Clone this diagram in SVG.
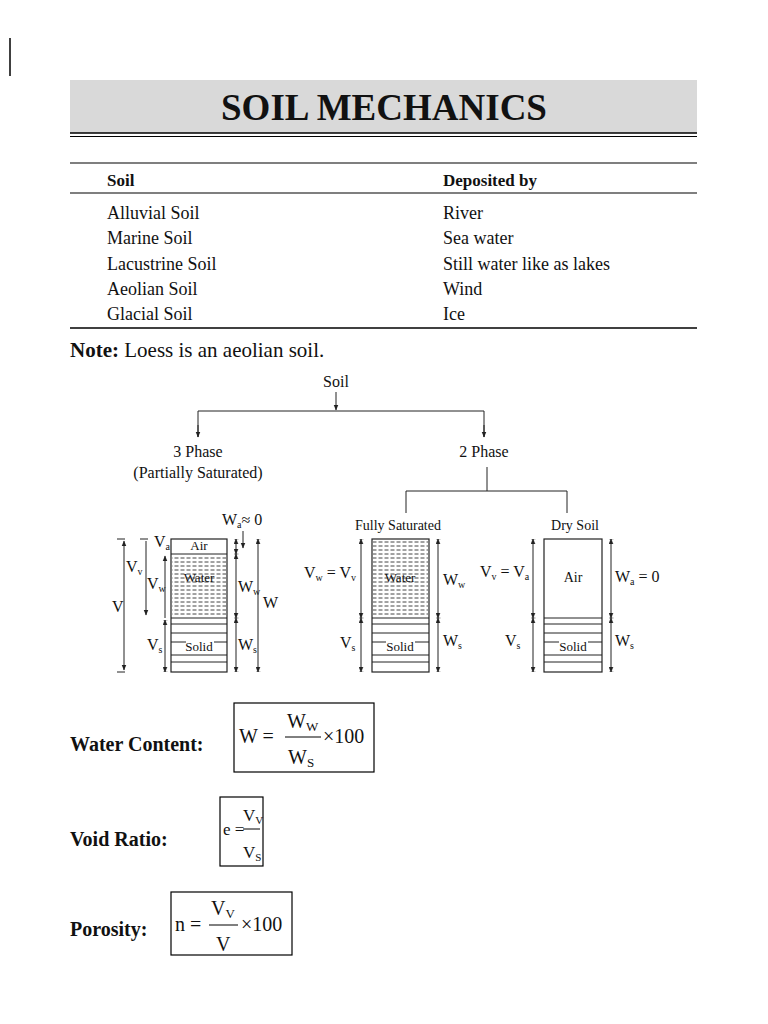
<svg xmlns="http://www.w3.org/2000/svg" width="768" height="1024" viewBox="0 0 768 1024">
<style>
text{font-family:"Liberation Serif","Times New Roman",serif;fill:#111}
.t{font-size:18px}.s{font-size:16px}.b{font-weight:bold}.sub{font-size:10px}
.f{font-size:20px}.fs{font-size:13px}
.l{stroke:#222;stroke-width:1;fill:none}
.box{stroke:#222;stroke-width:1.2;fill:#fff}
</style>
<defs>
<marker id="a" viewBox="0 0 10 10" refX="9" refY="5" markerWidth="6" markerHeight="6" orient="auto-start-reverse"><path d="M0,1L10,5L0,9z" fill="#222"/></marker>
<marker id="t" viewBox="0 0 10 10" refX="10" refY="5" markerWidth="5" markerHeight="5" orient="auto-start-reverse"><path d="M0,1L10,5L0,9z M10,0V10" fill="#222" stroke="#222"/></marker>
<pattern id="w" width="6" height="4" patternUnits="userSpaceOnUse"><line x1="0.5" y1="2" x2="4.5" y2="2" stroke="#444" stroke-width="1"/></pattern>
</defs>
<line x1="10" y1="38" x2="10" y2="76" stroke="#000" stroke-width="1.5"/>
<g id="title"><rect x="70" y="80" width="627" height="53" fill="#d9d9d9"/>
<line x1="70" y1="133" x2="697" y2="133" stroke="#000" stroke-width="1.5"/><line x1="70" y1="136.5" x2="697" y2="136.5" stroke="#000"/>
<text x="384" y="120" text-anchor="middle" class="b" style="font-size:37px">SOIL MECHANICS</text></g>
<g id="table"><line x1="70" y1="163" x2="697" y2="163" stroke="#000" stroke-width="1.2"/><line x1="70" y1="193" x2="697" y2="193" stroke="#000" stroke-width="1.2"/><line x1="70" y1="328" x2="697" y2="328" stroke="#000" stroke-width="1.5"/>
<text x="107" y="186" class="t b" style="font-size:17px">Soil</text><text x="443" y="186" class="t b" style="font-size:17px">Deposited by</text>
<text x="107" y="219" class="t">Alluvial Soil</text><text x="443" y="219" class="t">River</text>
<text x="107" y="244" class="t">Marine Soil</text><text x="443" y="244" class="t">Sea water</text>
<text x="107" y="270" class="t">Lacustrine Soil</text><text x="443" y="270" class="t">Still water like as lakes</text>
<text x="107" y="295" class="t">Aeolian Soil</text><text x="443" y="295" class="t">Wind</text>
<text x="107" y="320" class="t">Glacial Soil</text><text x="443" y="320" class="t">Ice</text></g>
<text x="70" y="357" style="font-size:21px"><tspan class="b">Note:</tspan> Loess is an aeolian soil.</text>
<g id="tree">
<text x="336" y="387" text-anchor="middle" class="s">Soil</text>
<text x="198" y="457" text-anchor="middle" class="s">3 Phase</text><text x="198" y="478" text-anchor="middle" class="s">(Partially Saturated)</text>
<text x="484" y="457" text-anchor="middle" class="s">2 Phase</text>
<text x="398" y="530" text-anchor="middle" style="font-size:14px">Fully Saturated</text>
<text x="575" y="530" text-anchor="middle" style="font-size:14px">Dry Soil</text>
</g>
<g id="connectors" class="l">
<line x1="336" y1="392" x2="336" y2="410" marker-end="url(#a)"/>
<polyline points="198,437 198,411 484,411 484,437"/>
<line x1="198" y1="425" x2="198" y2="437" marker-end="url(#a)"/><line x1="484" y1="425" x2="484" y2="437" marker-end="url(#a)"/>
<line x1="487" y1="467" x2="487" y2="491"/><polyline points="406,513 406,491 567,491 567,513"/>
</g>
<g id="phase3">
<rect x="171" y="539" width="56" height="133" class="box"/>
<rect x="172" y="555" width="54" height="62" fill="url(#w)"/>
<path class="l" d="M171,554H227M171,618H227M171,624H227M171,633H227M171,642H227M171,655H227M171,662H227"/>
<rect x="186" y="640" width="28" height="12" fill="#fff"/>
<text x="199" y="550" text-anchor="middle" style="font-size:13px">Air</text>
<text x="199" y="582" text-anchor="middle" style="font-size:13px">Water</text>
<text x="199" y="651" text-anchor="middle" style="font-size:13px">Solid</text>
<g class="l"><line x1="124" y1="541" x2="124" y2="670" marker-start="url(#a)" marker-end="url(#a)"/><path d="M117,539h8M117,672h8"/>
<line x1="146" y1="541" x2="146" y2="615" marker-end="url(#a)"/><path d="M140,539h8"/>
<line x1="165" y1="556" x2="165" y2="618" marker-start="url(#a)"/><line x1="165" y1="620" x2="165" y2="672" marker-start="url(#t)" marker-end="url(#t)"/>
<line x1="236" y1="539" x2="236" y2="554" marker-start="url(#t)" marker-end="url(#t)"/><line x1="236" y1="554" x2="236" y2="618" marker-start="url(#t)" marker-end="url(#t)"/><line x1="236" y1="618" x2="236" y2="672" marker-start="url(#t)" marker-end="url(#t)"/>
<line x1="258" y1="539" x2="258" y2="672" marker-start="url(#t)" marker-end="url(#t)"/>
<line x1="243" y1="531" x2="243" y2="548" marker-end="url(#a)"/></g>
<text x="112" y="612" class="s">V</text><text x="126" y="572" class="s">V<tspan class="sub" dy="3">v</tspan></text>
<text x="154" y="547" class="s">V<tspan class="sub" dy="3">a</tspan></text><text x="147" y="589" class="s">V<tspan class="sub" dy="3">w</tspan></text>
<text x="147" y="650" class="s">V<tspan class="sub" dy="3">s</tspan></text>
<text x="238" y="592" class="s">W<tspan class="sub" dy="3">w</tspan></text><text x="238" y="650" class="s">W<tspan class="sub" dy="3">s</tspan></text>
<text x="263" y="608" class="s">W</text><text x="222" y="525" class="s">W<tspan class="sub" dy="3">a</tspan><tspan dy="-3">≈ 0</tspan></text>
</g>
<g id="saturated">
<rect x="372" y="539" width="57" height="133" class="box"/>
<rect x="373" y="540" width="55" height="77" fill="url(#w)"/>
<path class="l" d="M372,618H429M372,624H429M372,633H429M372,642H429M372,655H429M372,662H429"/>
<rect x="386" y="640" width="29" height="12" fill="#fff"/>
<text x="400" y="582" text-anchor="middle" style="font-size:13px">Water</text><text x="400" y="651" text-anchor="middle" style="font-size:13px">Solid</text>
<g class="l"><line x1="361" y1="539" x2="361" y2="618" marker-start="url(#t)" marker-end="url(#t)"/><line x1="361" y1="618" x2="361" y2="672" marker-start="url(#t)" marker-end="url(#t)"/>
<line x1="438" y1="539" x2="438" y2="618" marker-start="url(#t)" marker-end="url(#t)"/><line x1="438" y1="618" x2="438" y2="672" marker-start="url(#t)" marker-end="url(#t)"/></g>
<text x="304" y="578" class="s">V<tspan class="sub" dy="3">w</tspan><tspan dy="-3"> = V</tspan><tspan class="sub" dy="3">v</tspan></text>
<text x="340" y="648" class="s">V<tspan class="sub" dy="3">s</tspan></text>
<text x="443" y="585" class="s">W<tspan class="sub" dy="3">w</tspan></text><text x="443" y="646" class="s">W<tspan class="sub" dy="3">s</tspan></text>
</g>
<g id="dry">
<rect x="544" y="539" width="58" height="133" class="box"/>
<path class="l" d="M544,618H602M544,624H602M544,633H602M544,642H602M544,655H602M544,662H602"/>
<rect x="559" y="640" width="29" height="12" fill="#fff"/>
<text x="573" y="582" text-anchor="middle" style="font-size:14px">Air</text><text x="573" y="651" text-anchor="middle" style="font-size:13px">Solid</text>
<g class="l"><line x1="533" y1="539" x2="533" y2="618" marker-start="url(#t)" marker-end="url(#t)"/><line x1="533" y1="618" x2="533" y2="672" marker-start="url(#t)" marker-end="url(#t)"/>
<line x1="611" y1="539" x2="611" y2="618" marker-start="url(#t)" marker-end="url(#t)"/><line x1="611" y1="618" x2="611" y2="672" marker-start="url(#t)" marker-end="url(#t)"/></g>
<text x="480" y="577" class="s">V<tspan class="sub" dy="3">v</tspan><tspan dy="-3"> = V</tspan><tspan class="sub" dy="3">a</tspan></text>
<text x="505" y="646" class="s">V<tspan class="sub" dy="3">s</tspan></text>
<text x="615" y="582" class="s">W<tspan class="sub" dy="3">a</tspan><tspan dy="-3"> = 0</tspan></text><text x="615" y="646" class="s">W<tspan class="sub" dy="3">s</tspan></text>
</g>
<g id="formulas">
<text x="70" y="751" class="b" style="font-size:20px">Water Content:</text>
<rect x="234" y="703" width="140" height="69" fill="none" stroke="#000" stroke-width="1.2"/>
<text x="239" y="743" class="f">W =</text><line x1="285" y1="737" x2="321" y2="737" stroke="#000"/>
<text x="287" y="728" class="f">W<tspan class="fs" dy="3">W</tspan></text>
<text x="288" y="764" class="f">W<tspan class="fs" dy="3">S</tspan></text>
<text x="323" y="743" class="f">×100</text>
<text x="70" y="846" class="b" style="font-size:20px">Void Ratio:</text>
<rect x="220" y="797" width="43" height="69" fill="none" stroke="#000" stroke-width="1.2"/>
<text x="223" y="835" class="f" style="font-size:17px">e =</text><line x1="243" y1="829" x2="260" y2="829" stroke="#000"/>
<text x="243" y="821" class="f" style="font-size:17px">V<tspan style="font-size:11px" dy="3">V</tspan></text>
<text x="243" y="858" class="f" style="font-size:17px">V<tspan style="font-size:11px" dy="3">S</tspan></text>
<text x="70" y="936" class="b" style="font-size:20px">Porosity:</text>
<rect x="171" y="892" width="121" height="63" fill="none" stroke="#000" stroke-width="1.2"/>
<text x="175" y="931" class="f">n =</text><line x1="209" y1="925" x2="238" y2="925" stroke="#000"/>
<text x="211" y="915" class="f">V<tspan class="fs" dy="3">V</tspan></text>
<text x="216" y="951" class="f">V</text>
<text x="241" y="931" class="f">×100</text>
</g>
</svg>
